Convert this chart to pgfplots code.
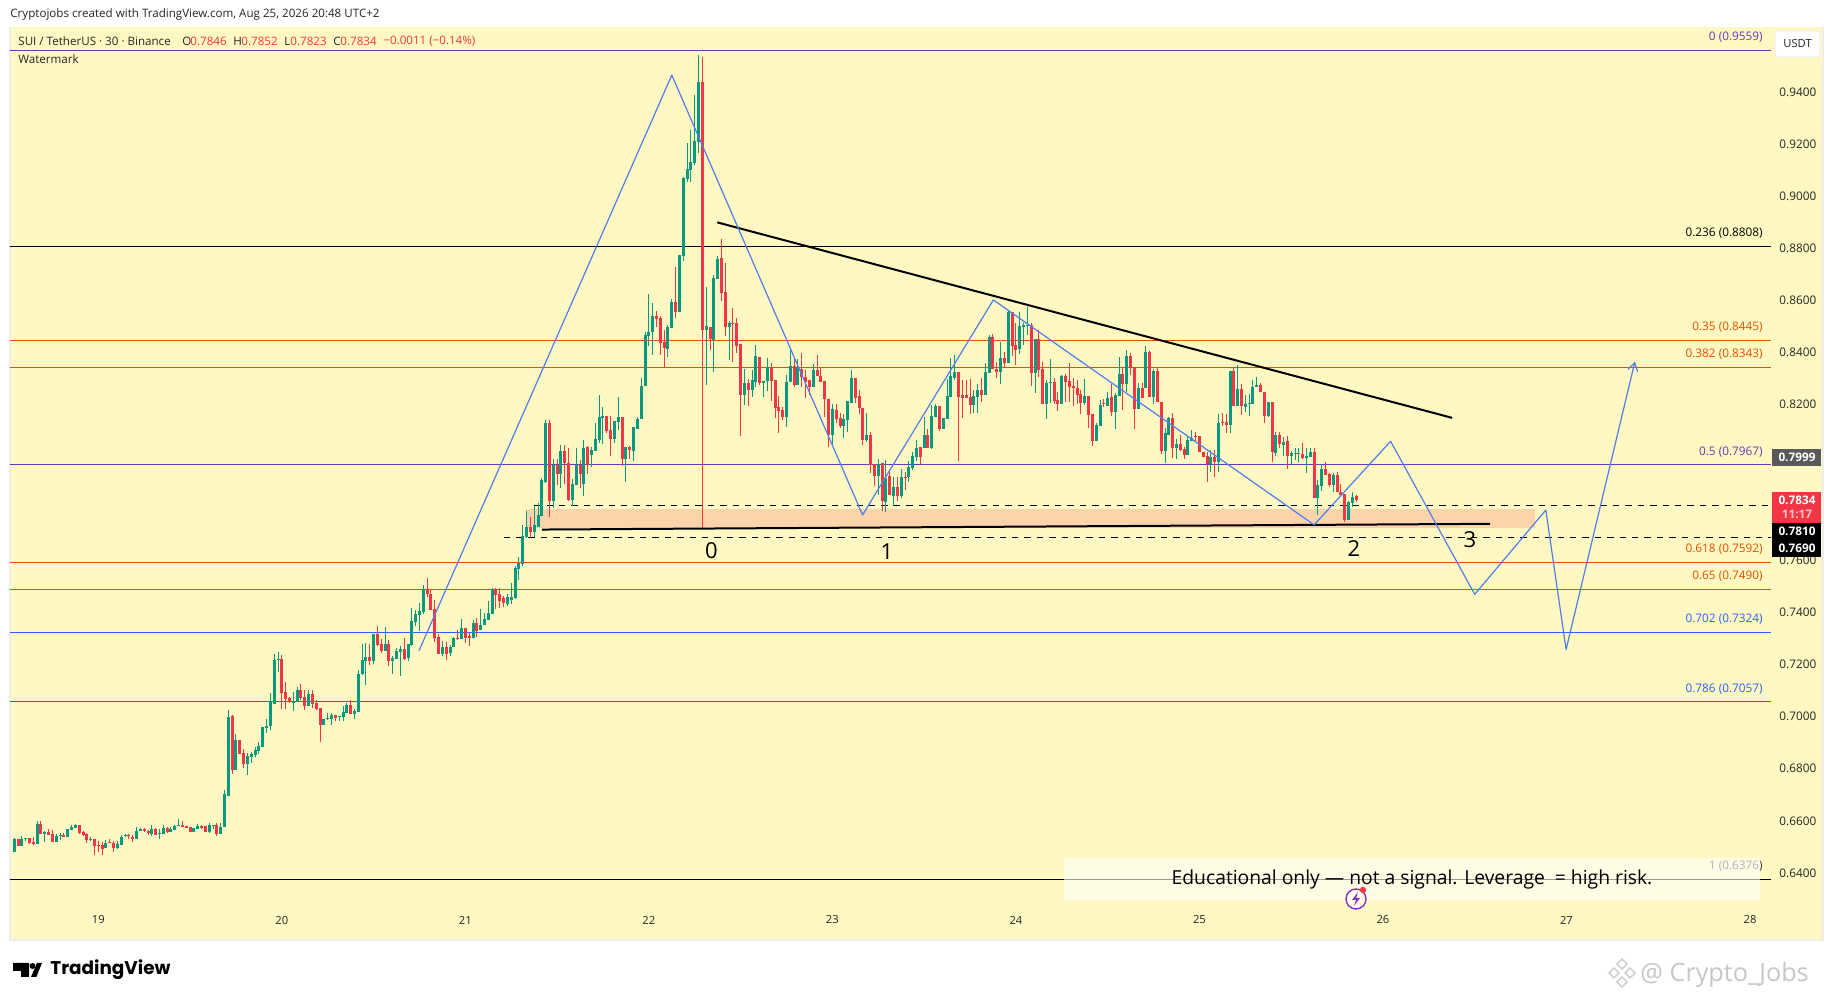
\documentclass[border=0pt]{standalone}
\usepackage{fontspec}
\setmainfont{Open Sans}
\newfontfamily\logofont{Poppins}
\usepackage{pgfplots}
\usepackage{pgfplotstable}
\pgfplotsset{compat=1.18}
\usetikzlibrary{arrows.meta}

\definecolor{panel}{HTML}{FFF8C2}
\definecolor{upc}{HTML}{089981}
\definecolor{downc}{HTML}{F23645}
\definecolor{fibpurple}{HTML}{673AB7}
\definecolor{fiborange}{HTML}{E65100}
\definecolor{fibblue}{HTML}{2962FF}
\definecolor{path}{HTML}{4F7FEF}
\definecolor{zone}{HTML}{FDD3AB}

\newcommand{\fs}[1]{\fontsize{#1}{#1}\selectfont}

% candle number (0 = start of the 19th, 48 a day), open high low close
\pgfplotstableread{
i o h l c
-22 0.6482 0.6535 0.6480 0.6530
-21 0.6530 0.6532 0.6503 0.6503
-20 0.6503 0.6542 0.6503 0.6530
-19 0.6529 0.6533 0.6523 0.6533
-18 0.6533 0.6533 0.6510 0.6513
-17 0.6519 0.6537 0.6507 0.6511
-16 0.6511 0.6600 0.6511 0.6588
-15 0.6587 0.6600 0.6550 0.6550
-14 0.6551 0.6562 0.6520 0.6557
-13 0.6557 0.6567 0.6546 0.6546
-12 0.6550 0.6565 0.6520 0.6520
-11 0.6520 0.6550 0.6520 0.6542
-10 0.6545 0.6552 0.6526 0.6547
-9 0.6547 0.6555 0.6539 0.6539
-8 0.6539 0.6569 0.6539 0.6569
-7 0.6566 0.6584 0.6566 0.6577
-6 0.6573 0.6588 0.6573 0.6583
-5 0.6583 0.6584 0.6551 0.6555
-4 0.6556 0.6561 0.6542 0.6546
-3 0.6550 0.6555 0.6513 0.6528
-2 0.6528 0.6539 0.6523 0.6531
-1 0.6530 0.6530 0.6469 0.6505
0 0.6507 0.6523 0.6481 0.6505
1 0.6507 0.6517 0.6469 0.6491
2 0.6494 0.6526 0.6494 0.6515
3 0.6519 0.6530 0.6515 0.6515
4 0.6515 0.6523 0.6482 0.6497
5 0.6496 0.6523 0.6490 0.6512
6 0.6509 0.6545 0.6509 0.6538
7 0.6540 0.6550 0.6536 0.6544
8 0.6544 0.6548 0.6529 0.6541
9 0.6538 0.6546 0.6520 0.6532
10 0.6532 0.6577 0.6532 0.6561
11 0.6559 0.6573 0.6559 0.6570
12 0.6568 0.6573 0.6556 0.6559
13 0.6561 0.6566 0.6547 0.6553
14 0.6550 0.6584 0.6540 0.6569
15 0.6569 0.6572 0.6545 0.6547
16 0.6550 0.6569 0.6530 0.6552
17 0.6550 0.6584 0.6550 0.6573
18 0.6572 0.6575 0.6552 0.6556
19 0.6558 0.6575 0.6558 0.6569
20 0.6564 0.6584 0.6564 0.6581
21 0.6579 0.6606 0.6579 0.6583
22 0.6583 0.6600 0.6577 0.6577
23 0.6579 0.6582 0.6572 0.6572
24 0.6576 0.6578 0.6558 0.6558
25 0.6558 0.6574 0.6558 0.6574
26 0.6570 0.6588 0.6570 0.6581
27 0.6582 0.6584 0.6568 0.6574
28 0.6579 0.6582 0.6558 0.6558
29 0.6556 0.6591 0.6552 0.6584
30 0.6581 0.6584 0.6568 0.6583
31 0.6584 0.6591 0.6542 0.6550
32 0.6550 0.6591 0.6550 0.6578
33 0.6578 0.6719 0.6578 0.6703
34 0.6697 0.7026 0.6697 0.6999
35 0.7004 0.7007 0.6780 0.6796
36 0.6796 0.6933 0.6796 0.6911
37 0.6911 0.6911 0.6857 0.6857
38 0.6860 0.6875 0.6803 0.6819
39 0.6819 0.6860 0.6777 0.6850
40 0.6844 0.6866 0.6824 0.6857
41 0.6852 0.6883 0.6847 0.6873
42 0.6869 0.6902 0.6857 0.6888
43 0.6884 0.6961 0.6884 0.6961
44 0.6958 0.6990 0.6939 0.6965
45 0.6965 0.7090 0.6947 0.7056
46 0.7050 0.7241 0.7050 0.7218
47 0.7219 0.7249 0.7173 0.7222
48 0.7222 0.7237 0.7030 0.7091
49 0.7095 0.7132 0.7030 0.7068
50 0.7072 0.7077 0.7052 0.7056
51 0.7056 0.7094 0.7022 0.7058
52 0.7056 0.7113 0.7056 0.7103
53 0.7103 0.7126 0.7065 0.7071
54 0.7076 0.7103 0.7026 0.7043
55 0.7043 0.7103 0.7043 0.7088
56 0.7088 0.7103 0.7033 0.7050
57 0.7054 0.7064 0.7026 0.7030
58 0.7034 0.7034 0.6903 0.6969
59 0.6969 0.6990 0.6969 0.6990
60 0.6992 0.7013 0.6988 0.6994
61 0.6993 0.7013 0.6969 0.7006
62 0.7007 0.7007 0.6985 0.6994
63 0.6999 0.7002 0.6984 0.7002
64 0.6999 0.7041 0.6984 0.7018
65 0.7013 0.7054 0.7013 0.7045
66 0.7044 0.7064 0.7012 0.7012
67 0.7012 0.7029 0.6992 0.7021
68 0.7018 0.7180 0.7018 0.7163
69 0.7163 0.7280 0.7159 0.7218
70 0.7214 0.7285 0.7122 0.7230
71 0.7230 0.7280 0.7199 0.7214
72 0.7214 0.7318 0.7204 0.7318
73 0.7318 0.7349 0.7272 0.7276
74 0.7280 0.7300 0.7244 0.7253
75 0.7253 0.7344 0.7253 0.7280
76 0.7280 0.7295 0.7195 0.7214
77 0.7214 0.7235 0.7164 0.7227
78 0.7222 0.7264 0.7222 0.7253
79 0.7250 0.7272 0.7157 0.7260
80 0.7260 0.7303 0.7218 0.7222
81 0.7226 0.7280 0.7215 0.7280
82 0.7275 0.7417 0.7272 0.7368
83 0.7365 0.7410 0.7349 0.7395
84 0.7392 0.7436 0.7331 0.7406
85 0.7401 0.7506 0.7395 0.7489
86 0.7489 0.7533 0.7459 0.7472
87 0.7472 0.7487 0.7411 0.7411
88 0.7414 0.7449 0.7287 0.7303
89 0.7305 0.7318 0.7241 0.7241
90 0.7241 0.7289 0.7234 0.7266
91 0.7266 0.7287 0.7218 0.7241
92 0.7245 0.7276 0.7234 0.7268
93 0.7266 0.7308 0.7266 0.7303
94 0.7303 0.7333 0.7295 0.7298
95 0.7300 0.7374 0.7300 0.7341
96 0.7341 0.7341 0.7285 0.7301
97 0.7310 0.7323 0.7272 0.7304
98 0.7304 0.7372 0.7304 0.7360
99 0.7360 0.7381 0.7308 0.7329
100 0.7332 0.7414 0.7332 0.7353
101 0.7351 0.7397 0.7351 0.7376
102 0.7372 0.7445 0.7372 0.7399
103 0.7395 0.7496 0.7395 0.7492
104 0.7491 0.7496 0.7414 0.7468
105 0.7471 0.7494 0.7418 0.7445
106 0.7456 0.7464 0.7422 0.7437
107 0.7433 0.7471 0.7425 0.7460
108 0.7448 0.7514 0.7433 0.7460
109 0.7457 0.7578 0.7453 0.7571
110 0.7568 0.7615 0.7525 0.7589
111 0.7587 0.7737 0.7579 0.7694
112 0.7692 0.7790 0.7686 0.7728
113 0.7728 0.7769 0.7686 0.7711
114 0.7711 0.7810 0.7692 0.7737
115 0.7730 0.7820 0.7730 0.7773
116 0.7771 0.7916 0.7771 0.7910
117 0.7903 0.8140 0.7897 0.8127
118 0.8127 0.8140 0.7766 0.7830
119 0.7830 0.7989 0.7803 0.7967
120 0.7967 0.7989 0.7890 0.7933
121 0.7933 0.8044 0.7880 0.8021
122 0.8021 0.8044 0.7894 0.7974
123 0.7974 0.8031 0.7830 0.7833
124 0.7833 0.7912 0.7810 0.7894
125 0.7890 0.8031 0.7890 0.7967
126 0.7967 0.7986 0.7878 0.7933
127 0.7894 0.8063 0.7846 0.8031
128 0.8035 0.8040 0.7933 0.7967
129 0.8006 0.8035 0.7961 0.8025
130 0.8021 0.8130 0.8021 0.8067
131 0.8063 0.8236 0.8053 0.8150
132 0.8149 0.8189 0.8048 0.8155
133 0.8155 0.8155 0.8091 0.8099
134 0.8102 0.8155 0.8002 0.8067
135 0.8067 0.8136 0.8050 0.8136
136 0.8132 0.8227 0.8102 0.8150
137 0.8153 0.8153 0.7965 0.7990
138 0.7990 0.8035 0.7903 0.8035
139 0.8035 0.8040 0.7989 0.8025
140 0.8022 0.8112 0.7984 0.8112
141 0.8106 0.8153 0.8106 0.8144
142 0.8144 0.8300 0.8144 0.8271
143 0.8271 0.8476 0.8271 0.8467
144 0.8463 0.8624 0.8424 0.8477
145 0.8476 0.8588 0.8390 0.8540
146 0.8540 0.8559 0.8499 0.8528
147 0.8531 0.8540 0.8390 0.8437
148 0.8441 0.8486 0.8342 0.8417
149 0.8413 0.8505 0.8383 0.8499
150 0.8494 0.8604 0.8494 0.8593
151 0.8593 0.8727 0.8533 0.8556
152 0.8554 0.8774 0.8554 0.8774
153 0.8770 0.9075 0.8752 0.9069
154 0.9066 0.9203 0.9053 0.9103
155 0.9101 0.9254 0.9056 0.9131
156 0.9129 0.9389 0.9120 0.9212
157 0.9209 0.9542 0.9167 0.9439
158 0.9439 0.9536 0.7724 0.8486
159 0.8486 0.8650 0.8275 0.8501
160 0.8496 0.8499 0.8409 0.8451
161 0.8447 0.8697 0.8323 0.8684
162 0.8682 0.8768 0.8682 0.8759
163 0.8761 0.8835 0.8597 0.8629
164 0.8631 0.8742 0.8463 0.8499
165 0.8499 0.8520 0.8371 0.8511
166 0.8513 0.8569 0.8364 0.8510
167 0.8511 0.8533 0.8396 0.8426
168 0.8432 0.8432 0.8079 0.8234
169 0.8234 0.8335 0.8198 0.8281
170 0.8281 0.8296 0.8194 0.8255
171 0.8255 0.8332 0.8230 0.8292
172 0.8285 0.8428 0.8268 0.8386
173 0.8382 0.8382 0.8275 0.8281
174 0.8281 0.8291 0.8230 0.8291
175 0.8291 0.8377 0.8251 0.8342
176 0.8342 0.8360 0.8214 0.8291
177 0.8292 0.8292 0.8147 0.8187
178 0.8191 0.8232 0.8091 0.8175
179 0.8179 0.8191 0.8140 0.8150
180 0.8153 0.8313 0.8114 0.8285
181 0.8284 0.8415 0.8284 0.8348
182 0.8348 0.8383 0.8266 0.8275
183 0.8275 0.8373 0.8275 0.8339
184 0.8335 0.8396 0.8268 0.8304
185 0.8304 0.8332 0.8223 0.8287
186 0.8294 0.8294 0.8236 0.8268
187 0.8268 0.8355 0.8268 0.8332
188 0.8332 0.8390 0.8307 0.8307
189 0.8309 0.8339 0.8287 0.8287
190 0.8291 0.8291 0.8153 0.8221
191 0.8221 0.8221 0.8038 0.8082
192 0.8082 0.8202 0.8048 0.8181
193 0.8179 0.8202 0.8127 0.8144
194 0.8147 0.8166 0.8108 0.8118
195 0.8118 0.8163 0.8072 0.8144
196 0.8140 0.8214 0.8093 0.8211
197 0.8207 0.8332 0.8207 0.8300
198 0.8300 0.8300 0.8204 0.8226
199 0.8232 0.8255 0.8163 0.8185
200 0.8185 0.8185 0.8042 0.8063
201 0.8063 0.8168 0.8057 0.8082
202 0.8082 0.8095 0.7935 0.7967
203 0.7971 0.7971 0.7887 0.7926
204 0.7926 0.7989 0.7852 0.7971
205 0.7974 0.7974 0.7792 0.7829
206 0.7826 0.7986 0.7785 0.7916
207 0.7926 0.7948 0.7850 0.7850
208 0.7848 0.7922 0.7811 0.7881
209 0.7884 0.7922 0.7830 0.7846
210 0.7846 0.7952 0.7842 0.7920
211 0.7920 0.7941 0.7871 0.7917
212 0.7920 0.7982 0.7903 0.7959
213 0.7954 0.8018 0.7948 0.8001
214 0.7999 0.8063 0.7982 0.8032
215 0.8035 0.8035 0.7966 0.7999
216 0.8031 0.8150 0.8031 0.8082
217 0.8082 0.8105 0.8034 0.8034
218 0.8031 0.8197 0.8027 0.8155
219 0.8153 0.8201 0.8153 0.8194
220 0.8194 0.8194 0.8099 0.8107
221 0.8107 0.8149 0.8107 0.8149
222 0.8144 0.8296 0.8144 0.8232
223 0.8229 0.8377 0.8229 0.8309
224 0.8300 0.8390 0.8294 0.8325
225 0.8325 0.8325 0.7982 0.8229
226 0.8236 0.8294 0.8149 0.8226
227 0.8236 0.8294 0.8225 0.8225
228 0.8229 0.8297 0.8163 0.8197
229 0.8196 0.8255 0.8168 0.8232
230 0.8229 0.8278 0.8168 0.8255
231 0.8255 0.8300 0.8210 0.8236
232 0.8236 0.8358 0.8236 0.8323
233 0.8319 0.8466 0.8319 0.8459
234 0.8459 0.8470 0.8335 0.8335
235 0.8336 0.8364 0.8300 0.8325
236 0.8323 0.8441 0.8278 0.8377
237 0.8377 0.8402 0.8342 0.8360
238 0.8358 0.8562 0.8358 0.8553
239 0.8553 0.8553 0.8386 0.8425
240 0.8428 0.8511 0.8351 0.8409
241 0.8411 0.8556 0.8393 0.8501
242 0.8498 0.8511 0.8428 0.8505
243 0.8502 0.8575 0.8466 0.8505
244 0.8505 0.8511 0.8270 0.8322
245 0.8322 0.8450 0.8245 0.8450
246 0.8450 0.8486 0.8306 0.8332
247 0.8336 0.8364 0.8201 0.8201
248 0.8201 0.8294 0.8144 0.8283
249 0.8282 0.8374 0.8204 0.8287
250 0.8285 0.8300 0.8201 0.8214
251 0.8217 0.8249 0.8176 0.8201
252 0.8201 0.8313 0.8201 0.8310
253 0.8309 0.8317 0.8210 0.8287
254 0.8288 0.8358 0.8210 0.8268
255 0.8270 0.8300 0.8194 0.8261
256 0.8264 0.8294 0.8201 0.8237
257 0.8238 0.8255 0.8163 0.8204
258 0.8204 0.8296 0.8197 0.8232
259 0.8232 0.8232 0.8108 0.8159
260 0.8162 0.8162 0.8041 0.8059
261 0.8059 0.8130 0.8059 0.8122
262 0.8118 0.8217 0.8118 0.8198
263 0.8204 0.8219 0.8188 0.8200
264 0.8194 0.8249 0.8194 0.8226
265 0.8227 0.8278 0.8155 0.8172
266 0.8172 0.8245 0.8105 0.8236
267 0.8232 0.8381 0.8232 0.8317
268 0.8317 0.8345 0.8178 0.8278
269 0.8278 0.8409 0.8249 0.8386
270 0.8386 0.8396 0.8313 0.8341
271 0.8341 0.8341 0.8105 0.8182
272 0.8182 0.8283 0.8182 0.8261
273 0.8264 0.8283 0.8224 0.8224
274 0.8264 0.8424 0.8264 0.8400
275 0.8402 0.8406 0.8227 0.8227
276 0.8227 0.8336 0.8201 0.8329
277 0.8329 0.8338 0.8208 0.8208
278 0.8210 0.8210 0.8008 0.8021
279 0.8021 0.8108 0.7976 0.8089
280 0.8082 0.8153 0.8082 0.8149
281 0.8149 0.8165 0.7995 0.8034
282 0.8034 0.8066 0.7989 0.8048
283 0.8048 0.8082 0.8021 0.8025
284 0.8028 0.8037 0.7990 0.8005
285 0.8005 0.8073 0.8005 0.8063
286 0.8060 0.8101 0.8060 0.8072
287 0.8079 0.8092 0.8060 0.8076
288 0.8078 0.8078 0.8018 0.8018
289 0.8018 0.8018 0.7999 0.7999
290 0.8003 0.8018 0.7903 0.7971
291 0.7971 0.8025 0.7941 0.7996
292 0.7999 0.8025 0.7922 0.7980
293 0.7980 0.8163 0.7941 0.8127
294 0.8133 0.8165 0.8118 0.8129
295 0.8133 0.8162 0.8091 0.8119
296 0.8121 0.8329 0.8091 0.8329
297 0.8329 0.8345 0.8194 0.8194
298 0.8194 0.8350 0.8194 0.8259
299 0.8259 0.8278 0.8159 0.8194
300 0.8191 0.8236 0.8172 0.8200
301 0.8200 0.8238 0.8155 0.8204
302 0.8201 0.8294 0.8201 0.8268
303 0.8268 0.8306 0.8268 0.8273
304 0.8273 0.8281 0.8249 0.8249
305 0.8249 0.8249 0.8130 0.8155
306 0.8155 0.8208 0.8152 0.8208
307 0.8208 0.8208 0.7980 0.8018
308 0.8014 0.8095 0.8003 0.8082
309 0.8082 0.8095 0.8031 0.8048
310 0.8045 0.8076 0.8003 0.8054
311 0.8059 0.8080 0.7953 0.8003
312 0.8003 0.8022 0.7967 0.8014
313 0.8012 0.8031 0.7986 0.8014
314 0.8012 0.8031 0.7980 0.8014
315 0.8009 0.8053 0.7990 0.7994
316 0.7995 0.8031 0.7938 0.8003
317 0.7999 0.8031 0.7999 0.8017
318 0.8017 0.8031 0.7840 0.7840
319 0.7840 0.7909 0.7775 0.7890
320 0.7888 0.7971 0.7867 0.7950
321 0.7950 0.7980 0.7927 0.7927
322 0.7932 0.7938 0.7884 0.7890
323 0.7890 0.7938 0.7864 0.7929
324 0.7929 0.7941 0.7862 0.7862
325 0.7864 0.7894 0.7853 0.7853
326 0.7855 0.7855 0.7749 0.7756
327 0.7756 0.7830 0.7756 0.7825
328 0.7822 0.7863 0.7807 0.7843
329 0.7846 0.7852 0.7823 0.7834
}\candles

\pgfplotsset{
  wick/.style={draw=none, no markers, error bars/.cd, y dir=minus, y explicit,
    error mark=none, error bar style={#1, line width=0.5pt, solid}},
  body/.style={draw=none, no markers, error bars/.cd, y dir=minus, y explicit,
    error mark=none, error bar style={#1, line width=1.5pt, solid}},
}

\begin{document}
\begin{tikzpicture}
\path[use as bounding box, fill=white] (0,0) rectangle (917.5pt,500pt);

% panel, drawn in image pixels
\begin{scope}[x=0.5pt,y=-0.5pt,shift={(0pt,500pt)}]
\fill[panel] (10,27) rectangle (1823,940);
\draw[black!7,line width=0.8pt] (10,27) -- (10,940) -- (1823,940) -- (1823,27);
\end{scope}

\begin{axis}[
  at={(5pt,47.5pt)}, anchor=south west, scale only axis,
  width=880.5pt, height=439pt,
  xmin=-23.1, xmax=437.5, ymin=0.62766, ymax=0.96497,
  axis line style={draw=none}, tick style={draw=none},
  xtick={0,48,96,144,192,240,288,336,384,432},
  xticklabels={19,20,21,22,23,24,25,26,27,28},
  ytick={0.64,0.66,0.68,0.70,0.72,0.74,0.76,0.82,0.84,0.86,0.88,0.90,0.92,0.94},
  yticklabel pos=right, scaled y ticks=false,
  xticklabel style={font=\fs{5.6}, text=black!85, anchor=center, inner sep=0pt, yshift=-7.5pt},
  yticklabel style={font=\fs{5.9}, text=black!85, anchor=west, inner sep=0pt, xshift=4pt,
    /pgf/number format/.cd, fixed, fixed zerofill, precision=4, assume math mode=true},
]
% zone
\addplot[draw=none, fill=zone] coordinates {(111.9,0.7799) (375.8,0.7799) (375.8,0.7726) (111.9,0.7726)} --cycle;
% fib levels
\addplot[fibpurple, line width=0.5pt] coordinates {(-23.1,0.9559) (437.5,0.9559)};
\addplot[black, line width=0.5pt] coordinates {(-23.1,0.8808) (437.5,0.8808)};
\addplot[fiborange, line width=0.5pt] coordinates {(-23.1,0.8445) (437.5,0.8445)};
\addplot[fiborange, line width=0.5pt] coordinates {(-23.1,0.8343) (437.5,0.8343)};
\addplot[fibpurple, line width=0.5pt] coordinates {(-23.1,0.7967) (437.5,0.7967)};
\addplot[fiborange, line width=0.5pt] coordinates {(-23.1,0.7592) (437.5,0.7592)};
\addplot[fiborange, line width=0.5pt] coordinates {(-23.1,0.7490) (437.5,0.7490)};
\addplot[fibblue, line width=0.5pt] coordinates {(-23.1,0.7324) (437.5,0.7324)};
\addplot[fibblue, line width=0.5pt] coordinates {(-23.1,0.7057) (437.5,0.7057)};
\addplot[black, line width=0.5pt] coordinates {(-23.1,0.6376) (437.5,0.6376)};
% dashed levels
\addplot[black, line width=0.5pt, dash pattern=on 3.2pt off 3pt] coordinates {(114,0.7810) (437.5,0.7810)};
\addplot[black, line width=0.5pt, dash pattern=on 3.2pt off 3pt] coordinates {(106,0.7690) (437.5,0.7690)};
% candles
\addplot[wick=upc] table[x expr={\thisrow{c}>=\thisrow{o}?\thisrow{i}:nan}, y=h, y error minus expr={\thisrow{h}-\thisrow{l}}] {\candles};
\addplot[wick=downc] table[x expr={\thisrow{c}<\thisrow{o}?\thisrow{i}:nan}, y=h, y error minus expr={\thisrow{h}-\thisrow{l}}] {\candles};
\addplot[body=upc] table[x expr={\thisrow{c}>=\thisrow{o}?\thisrow{i}:nan}, y=c, y error minus expr={\thisrow{c}-\thisrow{o}}] {\candles};
\addplot[body=downc] table[x expr={\thisrow{c}<\thisrow{o}?\thisrow{i}:nan}, y=o, y error minus expr={\thisrow{o}-\thisrow{c}}] {\candles};
% trend lines
\addplot[black, line width=1pt] coordinates {(161.9,0.8899) (354.1,0.8148)};
\addplot[black, line width=1pt] coordinates {(116,0.7719) (364,0.7741)};
% projected path
\addplot[path, line width=0.6pt, line join=round, -{Straight Barb[length=4pt,width=5pt]}] coordinates {
  (83.9,0.7254) (150,0.9465) (199.9,0.7775) (234.1,0.8601) (318,0.7737)
  (338,0.8058) (360,0.7470) (378.6,0.7794) (383.9,0.7258) (401.9,0.8364)};
\end{axis}

% texts and price scale tags, in image pixels
\begin{scope}[x=0.5pt,y=-0.5pt,shift={(0pt,500pt)},
  lab/.style={inner sep=0pt, font=\fs{5.8}},
  fib/.style={inner sep=0pt, anchor=east, font=\fs{5.9}},
  tag/.style={inner sep=0pt, font=\bfseries\fs{5.9}, text=white}]

\node[lab,anchor=west,text=black!85] at (10,15) {Cryptojobs created with TradingView.com, Aug 25, 2026 20:48 UTC+2};
\node[lab,anchor=west,text=black!85] at (18,41.5) {SUI / TetherUS · 30 · Binance};
\node[lab,anchor=west,text=black!85] at (182,41.5) {O};
\node[lab,anchor=west,text=downc] at (190,41.5) {0.7846};
\node[lab,anchor=west,text=black!85] at (233,41.5) {H};
\node[lab,anchor=west,text=downc] at (241,41.5) {0.7852};
\node[lab,anchor=west,text=black!85] at (284,41.5) {L};
\node[lab,anchor=west,text=downc] at (290,41.5) {0.7823};
\node[lab,anchor=west,text=black!85] at (333,41.5) {C};
\node[lab,anchor=west,text=downc] at (340,41.5) {0.7834};
\node[lab,anchor=west,text=downc] at (383,41.5) {−0.0011 (−0.14\%)};
\node[lab,anchor=west,text=black!85] at (18,59) {Watermark};

\node[fib,text=fibpurple] at (1763,37.6) {0 (0.9559)};
\node[fib,text=black] at (1763,233) {0.236 (0.8808)};
\node[fib,text=fiborange] at (1763,327.5) {0.35 (0.8445)};
\node[fib,text=fiborange] at (1763,354.1) {0.382 (0.8343)};
\node[fib,text=fibpurple] at (1763,452) {0.5 (0.7967)};
\node[fib,text=fiborange] at (1763,549.6) {0.618 (0.7592)};
\node[fib,text=fiborange] at (1763,576.2) {0.65 (0.7490)};
\node[fib,text=fibblue] at (1763,619.4) {0.702 (0.7324)};
\node[fib,text=fibblue] at (1763,688.9) {0.786 (0.7057)};
\node[fib,text=black!75] at (1763,866) {1 (0.6376)};

\node[inner sep=0pt,font=\fs{11}] at (711.5,551) {0};
\node[inner sep=0pt,font=\fs{11}] at (887,552) {1};
\node[inner sep=0pt,font=\fs{11}] at (1354,549) {2};
\node[inner sep=0pt,font=\fs{11}] at (1470,539.5) {3};

% price tags
\draw[black!8,fill=white,rounded corners=1.5pt,line width=0.4pt] (1775,31) rectangle (1820,57);
\node[inner sep=0pt,font=\fs{5.6},text=black!85] at (1797.5,44) {USDT};
\fill[black!65] (1772,449) rectangle (1821,466);
\node[tag] at (1797,457.5) {0.7999};
\fill[downc] (1772,492) rectangle (1821,523);
\node[tag] at (1797,500.7) {0.7834};
\node[tag,text=white!70!downc] at (1797,514.3) {11:17};
\fill[black] (1772,523) rectangle (1821,557);
\node[tag] at (1797,531.7) {0.7810};
\node[tag] at (1797,548.3) {0.7690};

% note box
\fill[white,opacity=0.6] (1064,858) rectangle (1760,900);
\node[inner sep=0pt,font=\fs{9.65},text=black] at (1412,879) {Educational only — not a signal. Leverage\ \ = high risk.};
\draw[fill=panel!40!white,draw=fibpurple!85!magenta,line width=0.7pt] (1356,899) circle (10);
\fill[fibpurple!85!magenta] (1358,892) -- (1352,900) -- (1356,900) -- (1354,906) -- (1360,898) -- (1356,898) -- cycle;
\fill[downc] (1363,890) circle (3.2);

% logo
\fill[black] (13,963) -- (29,963) -- (29,977) -- (21,977) -- (21,971) -- (13,971) -- cycle;
\fill[black] (32.5,966) circle (3);
\fill[black] (37,963) -- (42,963) -- (36.3,977) -- (31,977) -- cycle;
\node[inner sep=0pt,anchor=west,font=\logofont\bfseries\fs{9.2}] at (50,970) {TradingView};

% watermark
\foreach \dx/\dy in {0/-9,-8/0,8/0,0/9}
  \draw[black!18,line width=0.8pt] (1622+\dx,973+\dy-5) -- ++(5,5) -- ++(-5,5) -- ++(-5,-5) -- cycle;
\node[inner sep=0pt,anchor=west,font=\fs{12.6},text=black!22] at (1640,975) {@ Crypto\_Jobs};
\end{scope}
\end{tikzpicture}
\end{document}
